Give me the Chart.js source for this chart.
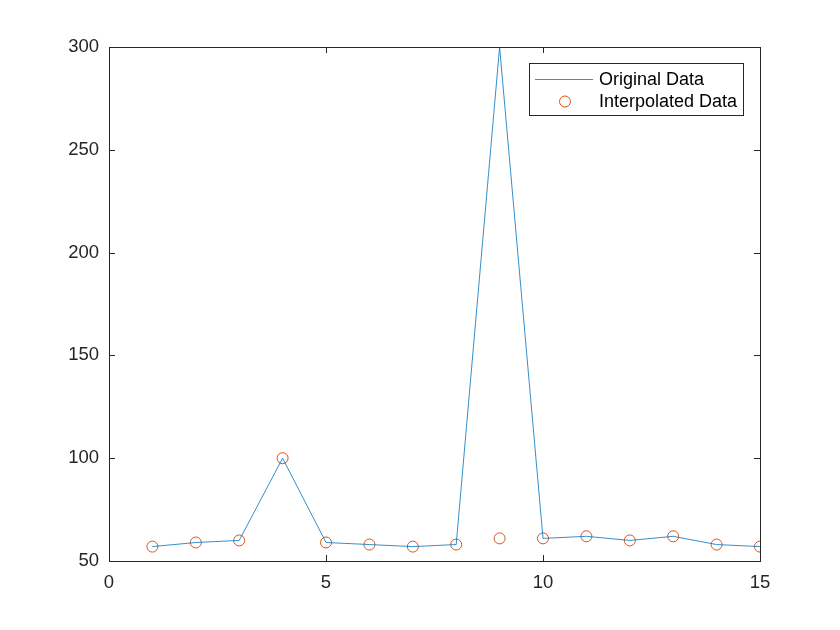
<!DOCTYPE html>
<html>
<head>
<meta charset="utf-8">
<script src="https://cdn.jsdelivr.net/npm/chart.js@4/dist/chart.umd.min.js"></script>
<style>
  html, body { margin: 0; padding: 0; background: #ffffff; }
  #c { display: block; }
</style>
</head>
<body>
<canvas id="c" width="840" height="630"></canvas>
<script>
// datos
const xs = [1, 2, 3, 4, 5, 6, 7, 8, 9, 10, 11, 12, 13, 14, 15];
const original = [57, 59, 60, 100, 59, 58, 57, 58, 300, 61, 62, 60, 62, 58, 57];
const interpolado = [57, 59, 60, 100, 59, 58, 57, 58, 61, 61, 62, 60, 62, 58, 57];
const xTicks = [0, 5, 10, 15];
const yTicks = [50, 100, 150, 200, 250, 300];
const nombres = ["Original Data", "Interpolated Data"];

const azul = "#0072BD";
const naranja = "#D95319";
const ejeColor = "#262626";
const fuente = "Liberation Sans, Arial, sans-serif";

// caja, ticks hacia adentro y leyenda estilo MATLAB
const cajaPlugin = {
  id: "caja",
  afterDraw(chart) {
    const ctx = chart.ctx;
    const a = chart.chartArea;
    const sx = chart.scales.x, sy = chart.scales.y;
    ctx.save();
    ctx.strokeStyle = ejeColor;
    ctx.lineWidth = 1;
    ctx.strokeRect(a.left + 0.5, a.top + 0.5, a.right - a.left, a.bottom - a.top);
    const t = 6;
    ctx.beginPath();
    xTicks.forEach(v => {
      const px = Math.round(sx.getPixelForValue(v)) + 0.5;
      ctx.moveTo(px, a.bottom); ctx.lineTo(px, a.bottom - t);
      ctx.moveTo(px, a.top); ctx.lineTo(px, a.top + t);
    });
    yTicks.forEach(v => {
      const py = Math.round(sy.getPixelForValue(v)) + 0.5;
      ctx.moveTo(a.left, py); ctx.lineTo(a.left + t, py);
      ctx.moveTo(a.right, py); ctx.lineTo(a.right - t, py);
    });
    ctx.stroke();

    // leyenda
    const lx = 529, ly = 63, lw = 214, lh = 52;
    ctx.fillStyle = "#ffffff";
    ctx.fillRect(lx, ly, lw, lh);
    ctx.strokeStyle = ejeColor;
    ctx.strokeRect(lx + 0.5, ly + 0.5, lw, lh);
    ctx.strokeStyle = azul;
    ctx.lineWidth = 0.8;
    ctx.beginPath();
    ctx.moveTo(535, 79.5); ctx.lineTo(593, 79.5);
    ctx.stroke();
    ctx.strokeStyle = naranja;
    ctx.lineWidth = 1;
    ctx.beginPath();
    ctx.arc(565, 101.5, 5.5, 0, Math.PI * 2);
    ctx.stroke();
    ctx.fillStyle = "#000000";
    ctx.font = "18px " + fuente;
    ctx.textBaseline = "middle";
    ctx.textAlign = "left";
    ctx.fillText(nombres[0], 599, 80);
    ctx.fillText(nombres[1], 599, 102);
    ctx.restore();
  }
};

const ctx = document.getElementById("c").getContext("2d");
new Chart(ctx, {
  type: "scatter",
  data: {
    datasets: [
      {
        label: nombres[0],
        data: xs.map((x, i) => ({ x: x, y: original[i] })),
        showLine: true,
        borderColor: azul,
        borderWidth: 0.8,
        pointRadius: 0,
        tension: 0
      },
      {
        label: nombres[1],
        data: xs.map((x, i) => ({ x: x, y: interpolado[i] })),
        showLine: false,
        borderColor: naranja,
        backgroundColor: "rgba(0,0,0,0)",
        borderWidth: 1,
        pointRadius: 5.5,
        pointStyle: "circle"
      }
    ]
  },
  options: {
    responsive: false,
    animation: false,
    layout: { padding: { left: 0, right: 80, top: 47, bottom: 0 } },
    plugins: {
      legend: { display: false },
      tooltip: { enabled: false }
    },
    scales: {
      x: {
        type: "linear",
        min: 0, max: 15,
        afterBuildTicks: s => { s.ticks = xTicks.map(v => ({ value: v })); },
        afterFit: s => { s.height = 69; },
        grid: { display: false, drawTicks: false },
        border: { display: false },
        ticks: { color: ejeColor, font: { family: fuente, size: 18.5 }, padding: 11, maxRotation: 0 }
      },
      y: {
        type: "linear",
        min: 50, max: 300,
        afterBuildTicks: s => { s.ticks = yTicks.map(v => ({ value: v })); },
        afterFit: s => { s.width = 109; },
        grid: { display: false, drawTicks: false },
        border: { display: false },
        ticks: { color: ejeColor, font: { family: fuente, size: 18.5 }, padding: 10 }
      }
    }
  },
  plugins: [cajaPlugin]
});
</script>
</body>
</html>
